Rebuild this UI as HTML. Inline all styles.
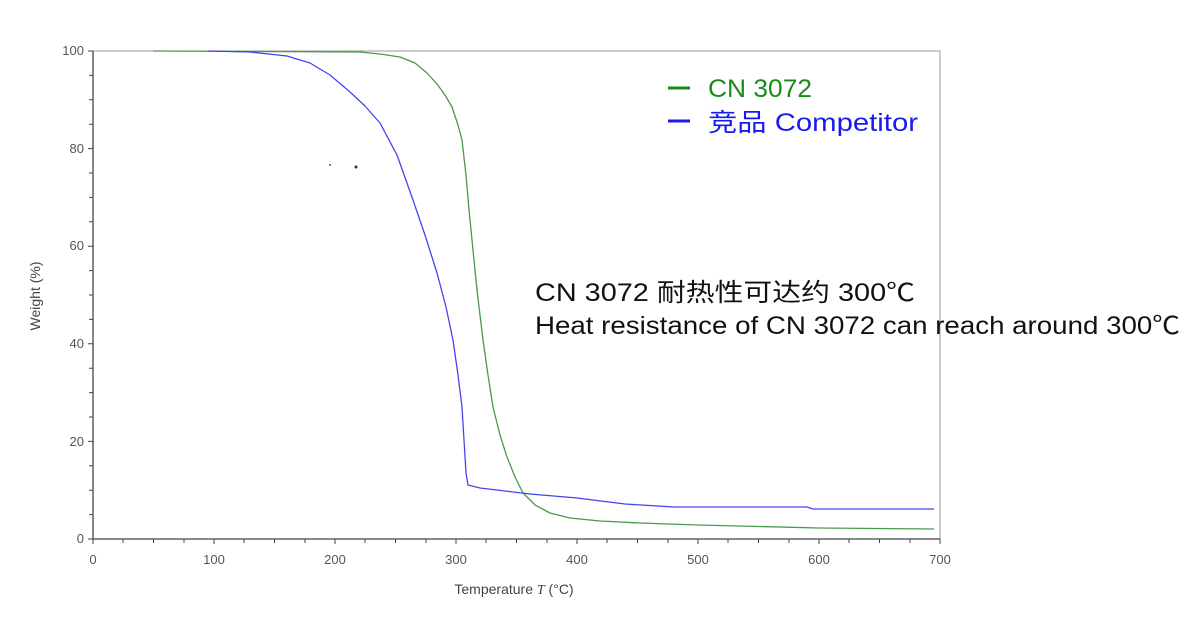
<!DOCTYPE html>
<html><head><meta charset="utf-8"><style>
body{margin:0;background:#fff;width:1200px;height:630px;overflow:hidden}
svg text{font-family:"Liberation Sans",sans-serif}
</style></head><body>
<svg width="1200" height="630" xmlns="http://www.w3.org/2000/svg">
<rect x="93" y="51" width="847" height="488" fill="none" stroke="#999" stroke-width="1"/>
<line x1="93" y1="51" x2="93" y2="539" stroke="#444" stroke-width="1.3"/>
<line x1="93" y1="539" x2="940" y2="539" stroke="#444" stroke-width="1.3"/>
<g stroke="#444" stroke-width="1">
<path d="M93 539v5M123 539v4M153.5 539v4M184 539v4M214 539v5M244 539v4M274.5 539v4M305 539v4M335 539v5M365 539v4M395.5 539v4M426 539v4M456 539v5M486 539v4M516.5 539v4M547 539v4M577 539v5M607 539v4M637.5 539v4M668 539v4M698 539v5M728 539v4M758.5 539v4M789 539v4M819 539v5M849 539v4M879.5 539v4M910 539v4M940 539v5"/>
<path d="M88 51h5M89 75.4h4M89 99.8h4M89 124.2h4M88 148.6h5M89 173h4M89 197.4h4M89 221.8h4M88 246.2h5M89 270.6h4M89 295h4M89 319.4h4M88 343.8h5M89 368.2h4M89 392.6h4M89 417h4M88 441.4h5M89 465.8h4M89 490.2h4M89 514.6h4M88 539h5"/>
</g>
<g fill="#555" font-size="13" text-anchor="middle">
<text x="93" y="564">0</text><text x="214" y="564">100</text><text x="335" y="564">200</text><text x="456" y="564">300</text><text x="577" y="564">400</text><text x="698" y="564">500</text><text x="819" y="564">600</text><text x="940" y="564">700</text>
</g>
<g fill="#555" font-size="13" text-anchor="end">
<text x="84" y="55">100</text><text x="84" y="153">80</text><text x="84" y="250">60</text><text x="84" y="348">40</text><text x="84" y="446">20</text><text x="84" y="543">0</text>
</g>
<text x="514" y="594" fill="#444" font-size="14" text-anchor="middle">Temperature <tspan font-family="Liberation Serif" font-style="italic">T</tspan> (°C)</text>
<text transform="translate(40,296) rotate(-90)" fill="#444" font-size="14" text-anchor="middle">Weight (%)</text>
<polyline fill="none" stroke="#4a9a4a" stroke-width="1.3" stroke-linejoin="round" points="153,51 360,52 380,54 400,57 415,63 427,73 437,84 445,95 452,107 458,125 462,140 466,175 469,210 472,240 477,290 483,340 488,375 493,407 500,435 507,457 515,477 523,493 535,505 550,513 570,518 600,521 640,523 698,525 819,528 934,529"/>
<polyline fill="none" stroke="#4444ee" stroke-width="1.3" stroke-linejoin="round" points="208,51 250,52 287,56 310,63 330,75 350,92 365,106 380,123 397,155 413,200 425,235 437,273 446,307 453,340 458,375 462,407 464,440 466,473 468,485 480,488 530,494 577,498 625,504 674,507 807,507 813,509 934,509"/>
<circle cx="330" cy="165" r="1" fill="#555"/><circle cx="356" cy="167" r="1.5" fill="#333"/>
<line x1="668" y1="88" x2="690" y2="88" stroke="#1a8a1a" stroke-width="3"/>
<line x1="668" y1="121" x2="690" y2="121" stroke="#1a1aee" stroke-width="3"/>
<g font-size="25">
<text x="708" y="97" fill="#1a8a1a" textLength="104" lengthAdjust="spacingAndGlyphs">CN 3072</text>
<text x="708" y="131" fill="#1a1aee" textLength="210" lengthAdjust="spacingAndGlyphs"><tspan font-family="Noto Sans CJK SC">竞品</tspan> Competitor</text>
<text x="535" y="301" fill="#111" textLength="380" lengthAdjust="spacingAndGlyphs">CN 3072 <tspan font-family="Noto Sans CJK SC">耐热性可达约</tspan> 300<tspan font-family="Noto Sans CJK SC">℃</tspan></text>
<text x="535" y="334" fill="#111" textLength="645" lengthAdjust="spacingAndGlyphs">Heat resistance of CN 3072 can reach around 300<tspan font-family="Noto Sans CJK SC">℃</tspan></text>
</g>
</svg>
</body></html>
